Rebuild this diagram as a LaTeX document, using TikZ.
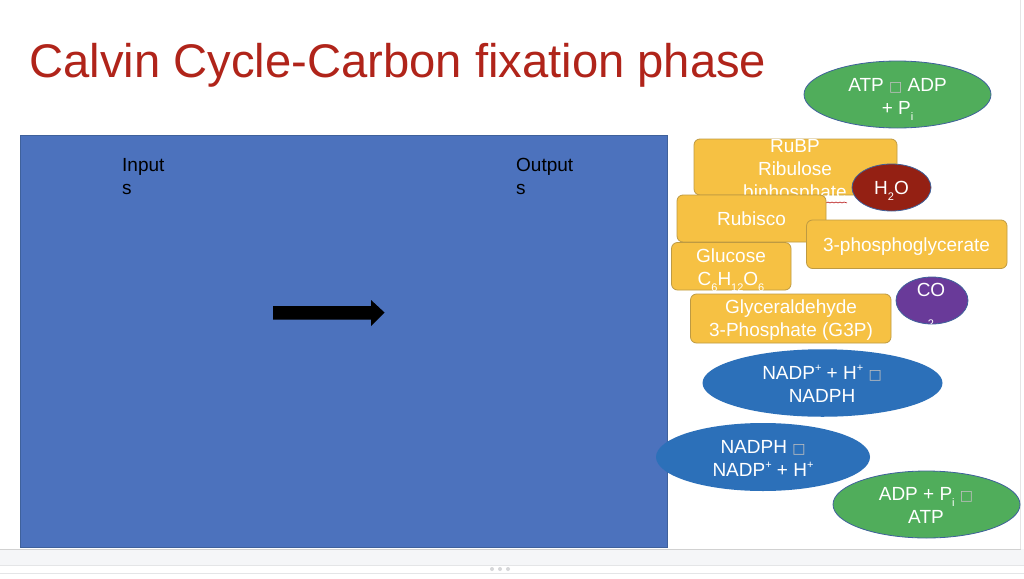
\documentclass[tikz,border=0pt]{standalone}
\usepackage{fontspec}
\setmainfont{Liberation Sans}
\newfontfamily\boxfont{DejaVu Sans}
\usetikzlibrary{shapes.geometric}
\definecolor{slideblue}{HTML}{4C72BD}
\definecolor{slideedge}{HTML}{3F619B}
\definecolor{gold}{HTML}{F6C143}
\definecolor{goldedge}{HTML}{BE9A42}
\definecolor{leaf}{HTML}{50AD5B}
\definecolor{ocean}{HTML}{2C70B9}
\definecolor{rust}{HTML}{942013}
\definecolor{grape}{HTML}{693A99}
\definecolor{titlered}{HTML}{B0241A}
\definecolor{footer}{HTML}{F5F6F8}
\definecolor{footerline}{HTML}{E4E5E7}
\definecolor{footerdot}{HTML}{D6D7D9}
\newcommand{\lo}[1]{\smash{\raisebox{-0.32em}{\fontsize{11}{11}\selectfont #1}}}
\newcommand{\hi}[1]{\smash{\raisebox{0.42em}{\fontsize{11}{11}\selectfont #1}}}
\newcommand{\miss}{\smash{{\boxfont\fontsize{14}{14}\selectfont\textcolor{white!75!black}{□}}}}
\newcommand{\chemtext}{\fontsize{19}{23}\selectfont}
\tikzset{
  x=1pt,y=-1pt,
  goldbox/.style={draw=goldedge,fill=gold,line width=0.8pt,rounded corners=6pt,inner sep=0pt,outer sep=0pt},
  oval/.style={ellipse,inner sep=0pt,outer sep=0pt,line width=0.8pt},
  chem/.style={text=white,align=center,inner sep=0pt,font=\chemtext,anchor=base},
  dark/.style={text=black,align=left,inner sep=0pt,font=\chemtext,anchor=base west},
}
\begin{document}
\begin{tikzpicture}
\useasboundingbox (0,0) rectangle (1024,578);
\fill[white] (0,0) rectangle (1024,578);
% page chrome
\fill[footer] (0,549) rectangle (1024,565);
\fill[black!18] (0,548.5) rectangle (1021,550);
\draw[black!10,line width=0.6pt] (1020.5,0) -- (1020.5,549);
\draw[footerline,line width=0.8pt] (0,565) -- (1024,565);
\draw[footerline,line width=0.8pt] (0,573) -- (1024,573);
\foreach \dx in {492,500,508} \fill[footerdot] (\dx,569) circle (2pt);
% title
\node[anchor=base west,inner sep=0pt,text=titlered,font=\fontsize{47.2}{55}\selectfont] (title) at (29,77.3) {Calvin Cycle-Carbon fixation phase};
% panel
\node[draw=slideedge,fill=slideblue,line width=0.8pt,minimum width=647.5pt,minimum height=412pt,inner sep=0pt,outer sep=0pt,anchor=north west] (panel) at (20,135) {};
\node[dark] (inputs) at (122,194) {Input\\s};
\node[dark] (outputs) at (516,194) {Output\\s};
\fill[black] (273,306) -- (371,306) -- (371,300) -- (384.5,312.5) -- (371,326) -- (371,319.5) -- (273,319.5) -- cycle;
% ATP ellipse
\node[oval,draw=slideedge,fill=leaf,minimum width=187pt,minimum height=67pt] (atp) at (897.5,94.5) {};
\node[chem] (atpt) at (897.5,114) {ATP \miss\ ADP\\+ P\lo{i}};
% RuBP
\node[goldbox,minimum width=203pt,minimum height=56pt,anchor=north west] (rubp) at (694,139) {};
\begin{scope}
\clip[rounded corners=6pt] (694,139) rectangle (897,195);
\node[chem] (rubpt) at (795,198) {RuBP\\Ribulose\\biphosphate};
\end{scope}
\draw[red!70!black,line width=0.5pt] (826,203) -- (828,202) -- (830,203) -- (832,202) -- (834,203) -- (836,202) -- (838,203) -- (840,202) -- (842,203) -- (844,202) -- (847,203);
% Rubisco
\node[goldbox,minimum width=149pt,minimum height=47pt,anchor=north west] (rubisco) at (677,195) {};
\node[chem] (rubiscot) at (751.5,225.5) {Rubisco};
% H2O
\node[oval,draw=slideedge,fill=rust,minimum width=79pt,minimum height=47pt] (water) at (891.5,187.5) {};
\node[chem] (watert) at (891.5,194.5) {H\lo{2}O};
% 3-phosphoglycerate
\node[goldbox,minimum width=200.5pt,minimum height=48.5pt,anchor=north west] (pga) at (806.5,220) {};
\node[chem] (pgat) at (906.5,251.5) {3-phosphoglycerate};
% Glucose
\node[goldbox,minimum width=119.5pt,minimum height=47.5pt,anchor=north west] (glucose) at (671.5,242.5) {};
\begin{scope}
\clip[rounded corners=6pt] (671.5,242.5) rectangle (791,290);
\node[chem] (glucoset) at (731,285) {Glucose\\C\lo{6}H\lo{12}O\lo{6}};
\end{scope}
% G3P
\node[goldbox,minimum width=200.5pt,minimum height=49pt,anchor=north west] (gthreep) at (690.5,294) {};
\node[chem] (gthreept) at (791,336.5) {Glyceraldehyde\\3-Phosphate (G3P)};
% CO2
\node[oval,draw=slideedge,fill=grape,minimum width=72pt,minimum height=47pt] (cotwo) at (932,300.5) {};
\begin{scope}
\clip (932,300.5) ellipse [x radius=36pt,y radius=23.5pt];
\node[chem] (cotwot) at (931,296) {CO};
\node[chem] (cotwosub) at (931,327) {\fontsize{11}{11}\selectfont 2};
\end{scope}
% NADP+
\node[oval,fill=ocean,minimum width=240pt,minimum height=67.5pt] (nadpplus) at (822.5,383) {};
\node[chem] (nadpplust) at (822,402) {NADP\hi{+} + H\hi{+} \miss\\NADPH};
% NADPH
\node[oval,fill=ocean,minimum width=214pt,minimum height=68pt] (nadph) at (763,457) {};
\node[chem] (nadpht) at (763,476) {NADPH \miss\\NADP\hi{+} + H\hi{+}};
% ADP
\node[oval,draw=slideedge,fill=leaf,minimum width=187pt,minimum height=67pt] (adp) at (926.5,504.5) {};
\node[chem] (adpt) at (926,523) {ADP + P\lo{i} \miss\\ATP};
\end{tikzpicture}
\end{document}
